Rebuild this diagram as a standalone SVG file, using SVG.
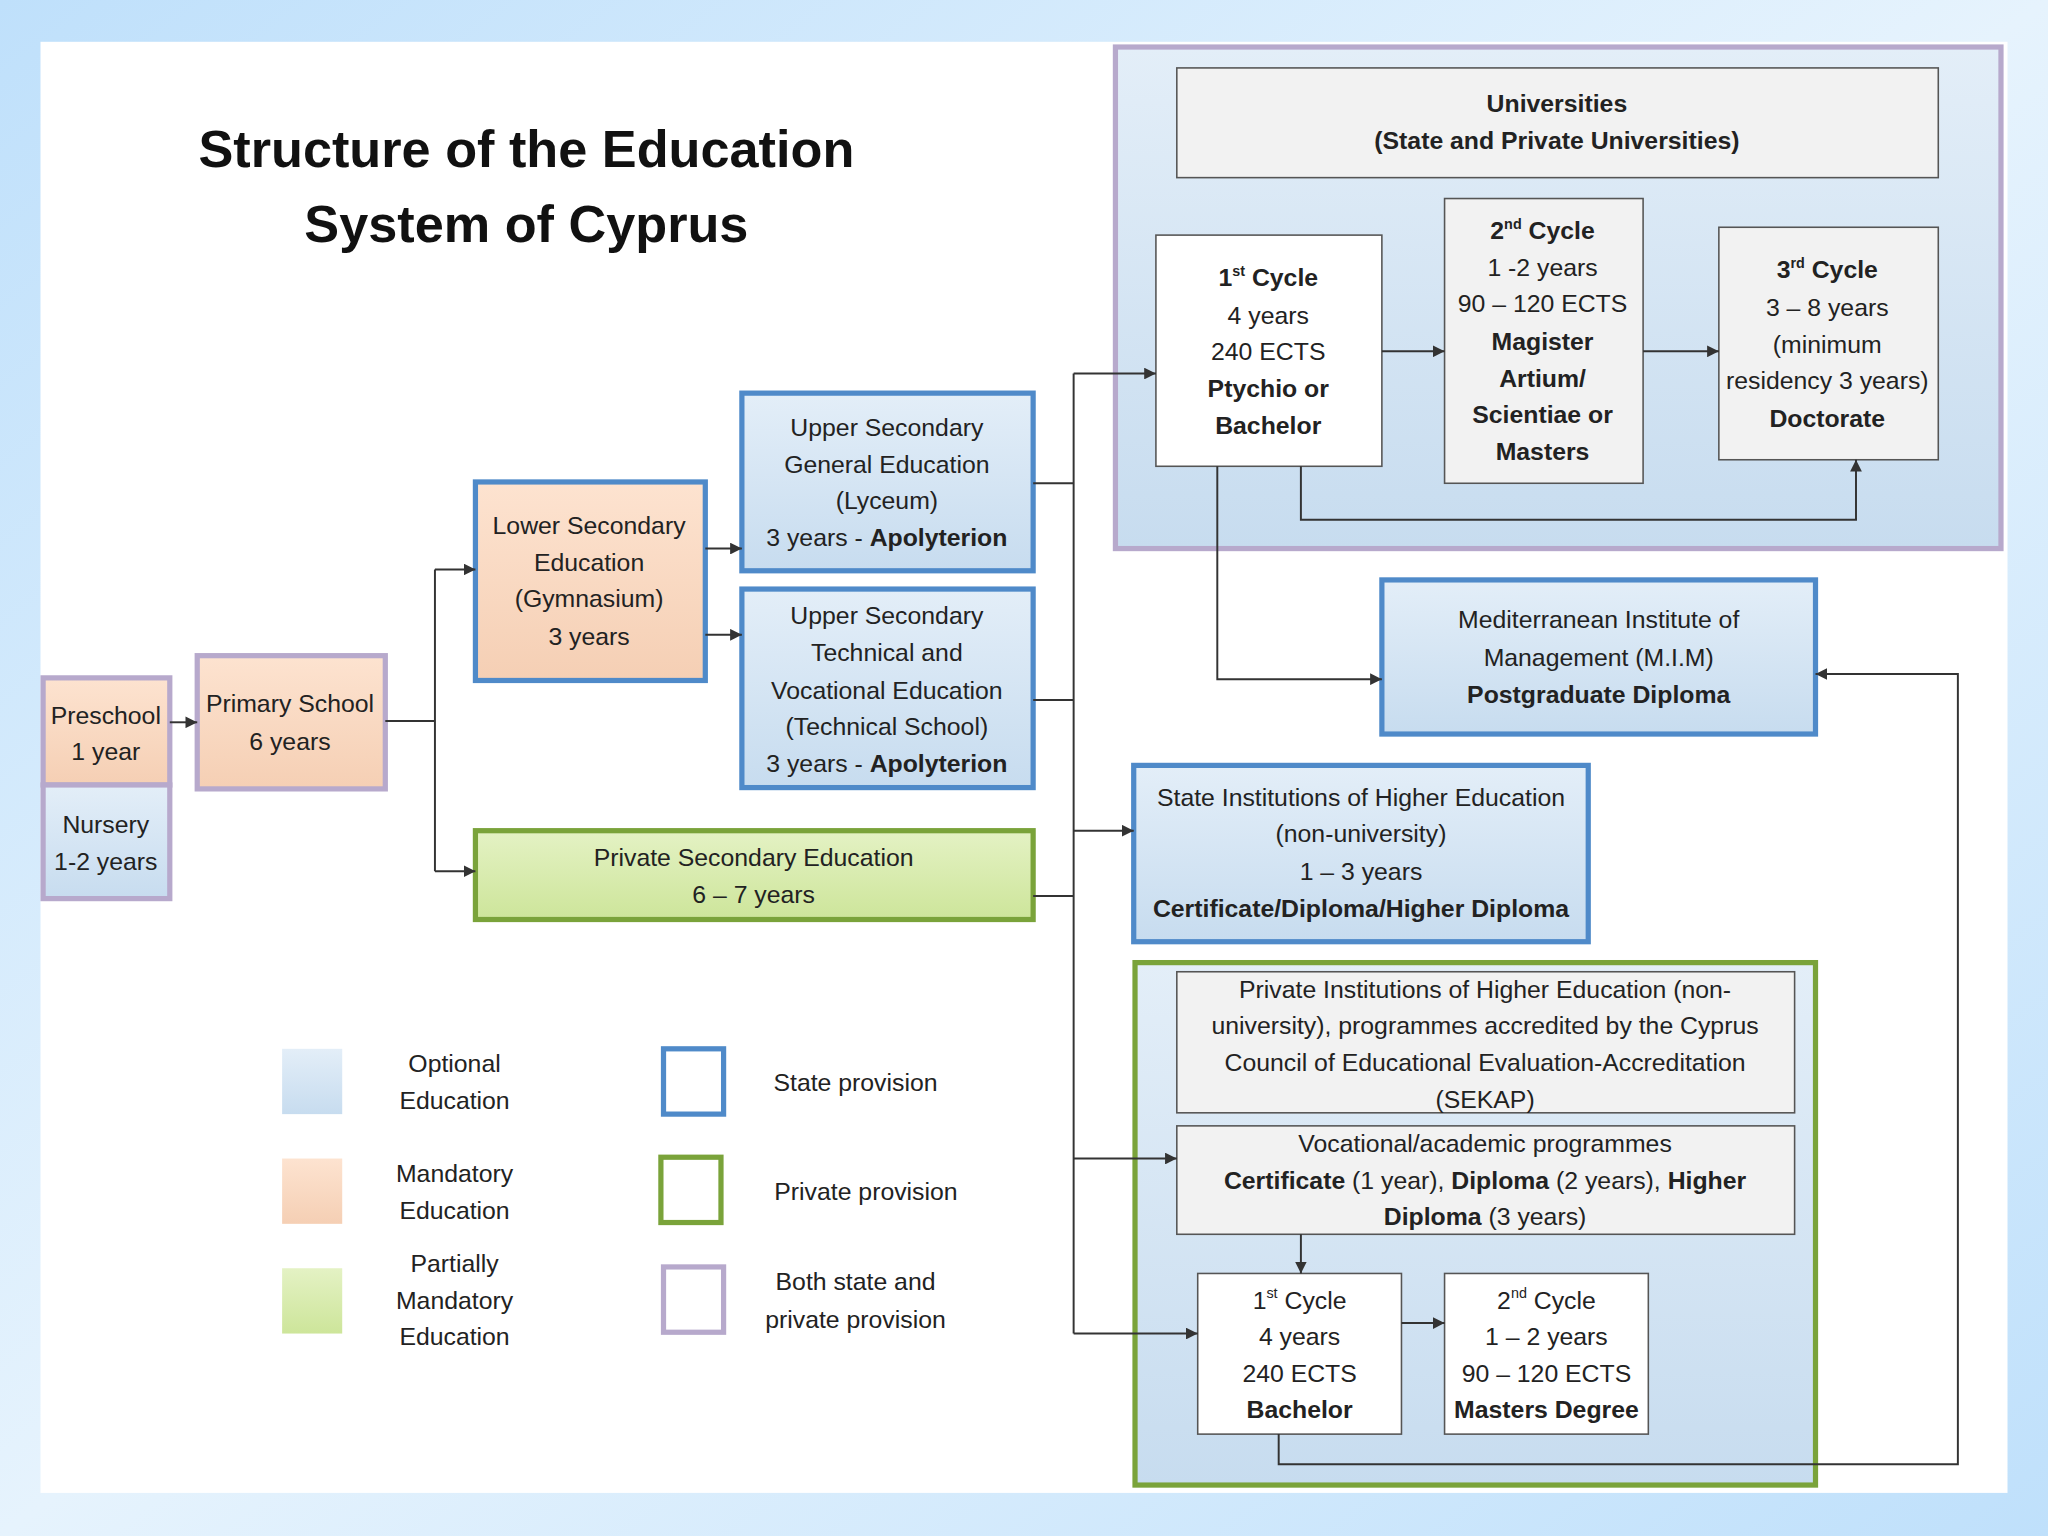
<svg xmlns="http://www.w3.org/2000/svg" width="2048" height="1536" viewBox="0 0 2048 1536">
<defs>
<linearGradient id="bg" x1="0" y1="0" x2="1" y2="1"><stop offset="0" stop-color="#bfe0fb"/><stop offset="0.5" stop-color="#e6f3fd"/><stop offset="1" stop-color="#bfe0fb"/></linearGradient>
<linearGradient id="peach" x1="0" y1="0" x2="0" y2="1"><stop offset="0" stop-color="#fde3d0"/><stop offset="1" stop-color="#f5cfb4"/></linearGradient>
<linearGradient id="lblue" x1="0" y1="0" x2="0" y2="1"><stop offset="0" stop-color="#e3eef8"/><stop offset="1" stop-color="#c7dcef"/></linearGradient>
<linearGradient id="green" x1="0" y1="0" x2="0" y2="1"><stop offset="0" stop-color="#e4f2c4"/><stop offset="1" stop-color="#cde59a"/></linearGradient>
<marker id="a" viewBox="0 0 10 10" refX="10" refY="5" markerWidth="9" markerHeight="9" markerUnits="userSpaceOnUse" orient="auto"><path d="M0,0 L10,5 L0,10 z" fill="#333"/></marker>
</defs>
<style>
text{font-family:"Liberation Sans",Arial,sans-serif;font-size:19px;fill:#222;text-anchor:middle}
.b{font-weight:bold}
.t{font-size:40px;font-weight:bold;fill:#111}
.sup{font-size:11px}
.pu{stroke:#b7a9cc;stroke-width:4}
.bl{stroke:#4f8ac9;stroke-width:4}
.gr{stroke:#7aa33a;stroke-width:4}
.gy{fill:#f2f2f2;stroke:#555;stroke-width:1.2}
.wh{fill:#fff;stroke:#555;stroke-width:1.2}
#connectors path{fill:none;stroke:#333;stroke-width:1.5}
</style>
<rect width="2048" height="1536" fill="url(#bg)"/>
<g transform="scale(1.30612)">
<rect x="31" y="32" width="1506" height="1111" fill="#fff"/>
<g id="title"><text class="t" x="403" y="128">Structure of the Education</text><text class="t" x="403" y="185">System of Cyprus</text></g>
<g id="universities"><rect x="854" y="36" width="678" height="384" fill="url(#lblue)" class="pu"/>
<rect x="901" y="52" width="583" height="84" class="gy"/><text class="b" x="1192" y="86">Universities</text><text class="b" x="1192" y="114">(State and Private Universities)</text></g>
<g id="cycle1"><rect x="885" y="180" width="173" height="177" class="wh"/><text x="971" y="219" class="b">1<tspan class="sup" dy="-8">st</tspan><tspan dy="8"> Cycle</tspan></text><text x="971" y="248">4 years</text><text x="971" y="276">240 ECTS</text><text x="971" y="304" class="b">Ptychio or</text><text x="971" y="332" class="b">Bachelor</text></g>
<g id="cycle2"><rect x="1106" y="152" width="152" height="218" class="gy"/><text x="1181" y="183" class="b">2<tspan class="sup" dy="-8">nd</tspan><tspan dy="8"> Cycle</tspan></text><text x="1181" y="211">1 -2 years</text><text x="1181" y="239">90 – 120 ECTS</text><text x="1181" y="268" class="b">Magister</text><text x="1181" y="296" class="b">Artium/</text><text x="1181" y="324" class="b">Scientiae or</text><text x="1181" y="352" class="b">Masters</text></g>
<g id="cycle3"><rect x="1316" y="174" width="168" height="178" class="gy"/><text x="1399" y="213" class="b">3<tspan class="sup" dy="-8">rd</tspan><tspan dy="8"> Cycle</tspan></text><text x="1399" y="242">3 – 8 years</text><text x="1399" y="270">(minimum</text><text x="1399" y="298">residency 3 years)</text><text x="1399" y="327" class="b">Doctorate</text></g>
<g id="preschool"><rect x="33" y="519" width="97" height="82" fill="url(#peach)" class="pu"/><text x="81" y="554">Preschool</text><text x="81" y="582">1 year</text></g>
<g id="nursery"><rect x="33" y="601" width="97" height="87" fill="url(#lblue)" class="pu"/><text x="81" y="638">Nursery</text><text x="81" y="666">1-2 years</text></g>
<g id="primary"><rect x="151" y="502" width="144" height="102" fill="url(#peach)" class="pu"/><text x="222" y="545">Primary School</text><text x="222" y="574">6 years</text></g>
<g id="lower"><rect x="364" y="369" width="176" height="152" fill="url(#peach)" class="bl"/><text x="451" y="409">Lower Secondary</text><text x="451" y="437">Education</text><text x="451" y="465">(Gymnasium)</text><text x="451" y="494">3 years</text></g>
<g id="upgen"><rect x="568" y="301" width="223" height="136" fill="url(#lblue)" class="bl"/><text x="679" y="334">Upper Secondary</text><text x="679" y="362">General Education</text><text x="679" y="390">(Lyceum)</text><text x="679" y="418">3 years - <tspan class="b">Apolyterion</tspan></text></g>
<g id="uptech"><rect x="568" y="451" width="223" height="152" fill="url(#lblue)" class="bl"/><text x="679" y="478">Upper Secondary</text><text x="679" y="506">Technical and</text><text x="679" y="535">Vocational Education</text><text x="679" y="563">(Technical School)</text><text x="679" y="591">3 years - <tspan class="b">Apolyterion</tspan></text></g>
<g id="privsec"><rect x="364" y="636" width="427" height="68" fill="url(#green)" class="gr"/><text x="577" y="663">Private Secondary Education</text><text x="577" y="691">6 – 7 years</text></g>
<g id="mim"><rect x="1058" y="444" width="332" height="118" fill="url(#lblue)" class="bl"/><text x="1224" y="481">Mediterranean Institute of</text><text x="1224" y="510">Management (M.I.M)</text><text x="1224" y="538" class="b">Postgraduate Diploma</text></g>
<g id="stateinst"><rect x="868" y="586" width="348" height="135" fill="url(#lblue)" class="bl"/><text x="1042" y="617">State Institutions of Higher Education</text><text x="1042" y="645">(non-university)</text><text x="1042" y="674">1 – 3 years</text><text x="1042" y="702" class="b">Certificate/Diploma/Higher Diploma</text></g>
<g id="privinst"><rect x="869" y="737" width="521" height="400" fill="url(#lblue)" class="gr"/>
<rect x="901" y="744" width="473" height="108" class="gy"/><text x="1137" y="764">Private Institutions of Higher Education (non-</text><text x="1137" y="792">university), programmes accredited by the Cyprus</text><text x="1137" y="820">Council of Educational Evaluation-Accreditation</text><text x="1137" y="848">(SEKAP)</text></g>
<g id="vocational"><rect x="901" y="862" width="473" height="83" class="gy"/><text x="1137" y="882">Vocational/academic programmes</text><text x="1137" y="910"><tspan class="b">Certificate</tspan> (1 year), <tspan class="b">Diploma</tspan> (2 years), <tspan class="b">Higher</tspan></text><text x="1137" y="938"><tspan class="b">Diploma</tspan> (3 years)</text></g>
<g id="bach"><rect x="917" y="975" width="156" height="123" class="wh"/><text x="995" y="1002">1<tspan class="sup" dy="-8">st</tspan><tspan dy="8"> Cycle</tspan></text><text x="995" y="1030">4 years</text><text x="995" y="1058">240 ECTS</text><text x="995" y="1086" class="b">Bachelor</text></g>
<g id="mast"><rect x="1106" y="975" width="156" height="123" class="wh"/><text x="1184" y="1002">2<tspan class="sup" dy="-8">nd</tspan><tspan dy="8"> Cycle</tspan></text><text x="1184" y="1030">1 – 2 years</text><text x="1184" y="1058">90 – 120 ECTS</text><text x="1184" y="1086" class="b">Masters Degree</text></g>
<g id="legend">
<rect x="216" y="803" width="46" height="50" fill="url(#lblue)"/><text x="348" y="821">Optional</text><text x="348" y="849">Education</text>
<rect x="216" y="887" width="46" height="50" fill="url(#peach)"/><text x="348" y="905">Mandatory</text><text x="348" y="933">Education</text>
<rect x="216" y="971" width="46" height="50" fill="url(#green)"/><text x="348" y="974">Partially</text><text x="348" y="1002">Mandatory</text><text x="348" y="1030">Education</text>
<rect x="508" y="803" width="46" height="50" fill="#fff" class="bl"/><text x="655" y="835">State provision</text>
<rect x="506" y="886" width="46" height="50" fill="#fff" class="gr"/><text x="663" y="919">Private provision</text>
<rect x="508" y="970" width="46" height="50" fill="#fff" class="pu"/><text x="655" y="988">Both state and</text><text x="655" y="1017">private provision</text>
</g>
<g id="connectors">
<path d="M130,553 H151" marker-end="url(#a)"/>
<path d="M295,552 H333 M333,436 V667"/>
<path d="M333,436 H364" marker-end="url(#a)"/>
<path d="M333,667 H364" marker-end="url(#a)"/>
<path d="M540,420 H568" marker-end="url(#a)"/>
<path d="M540,486 H568" marker-end="url(#a)"/>
<path d="M791,370 H822 M791,536 H822 M791,686 H822 M822,286 V1021"/>
<path d="M822,286 H885" marker-end="url(#a)"/>
<path d="M822,636 H868" marker-end="url(#a)"/>
<path d="M822,887 H901" marker-end="url(#a)"/>
<path d="M822,1021 H917" marker-end="url(#a)"/>
<path d="M1058,269 H1106" marker-end="url(#a)"/>
<path d="M1258,269 H1316" marker-end="url(#a)"/>
<path d="M996,357 V398 H1421 V352" marker-end="url(#a)"/>
<path d="M932,357 V520 H1058" marker-end="url(#a)"/>
<path d="M996,945 V975" marker-end="url(#a)"/>
<path d="M1073,1013 H1106" marker-end="url(#a)"/>
<path d="M979,1098 V1121 H1499 V516 H1390" marker-end="url(#a)"/>
</g>
</g>
</svg>
